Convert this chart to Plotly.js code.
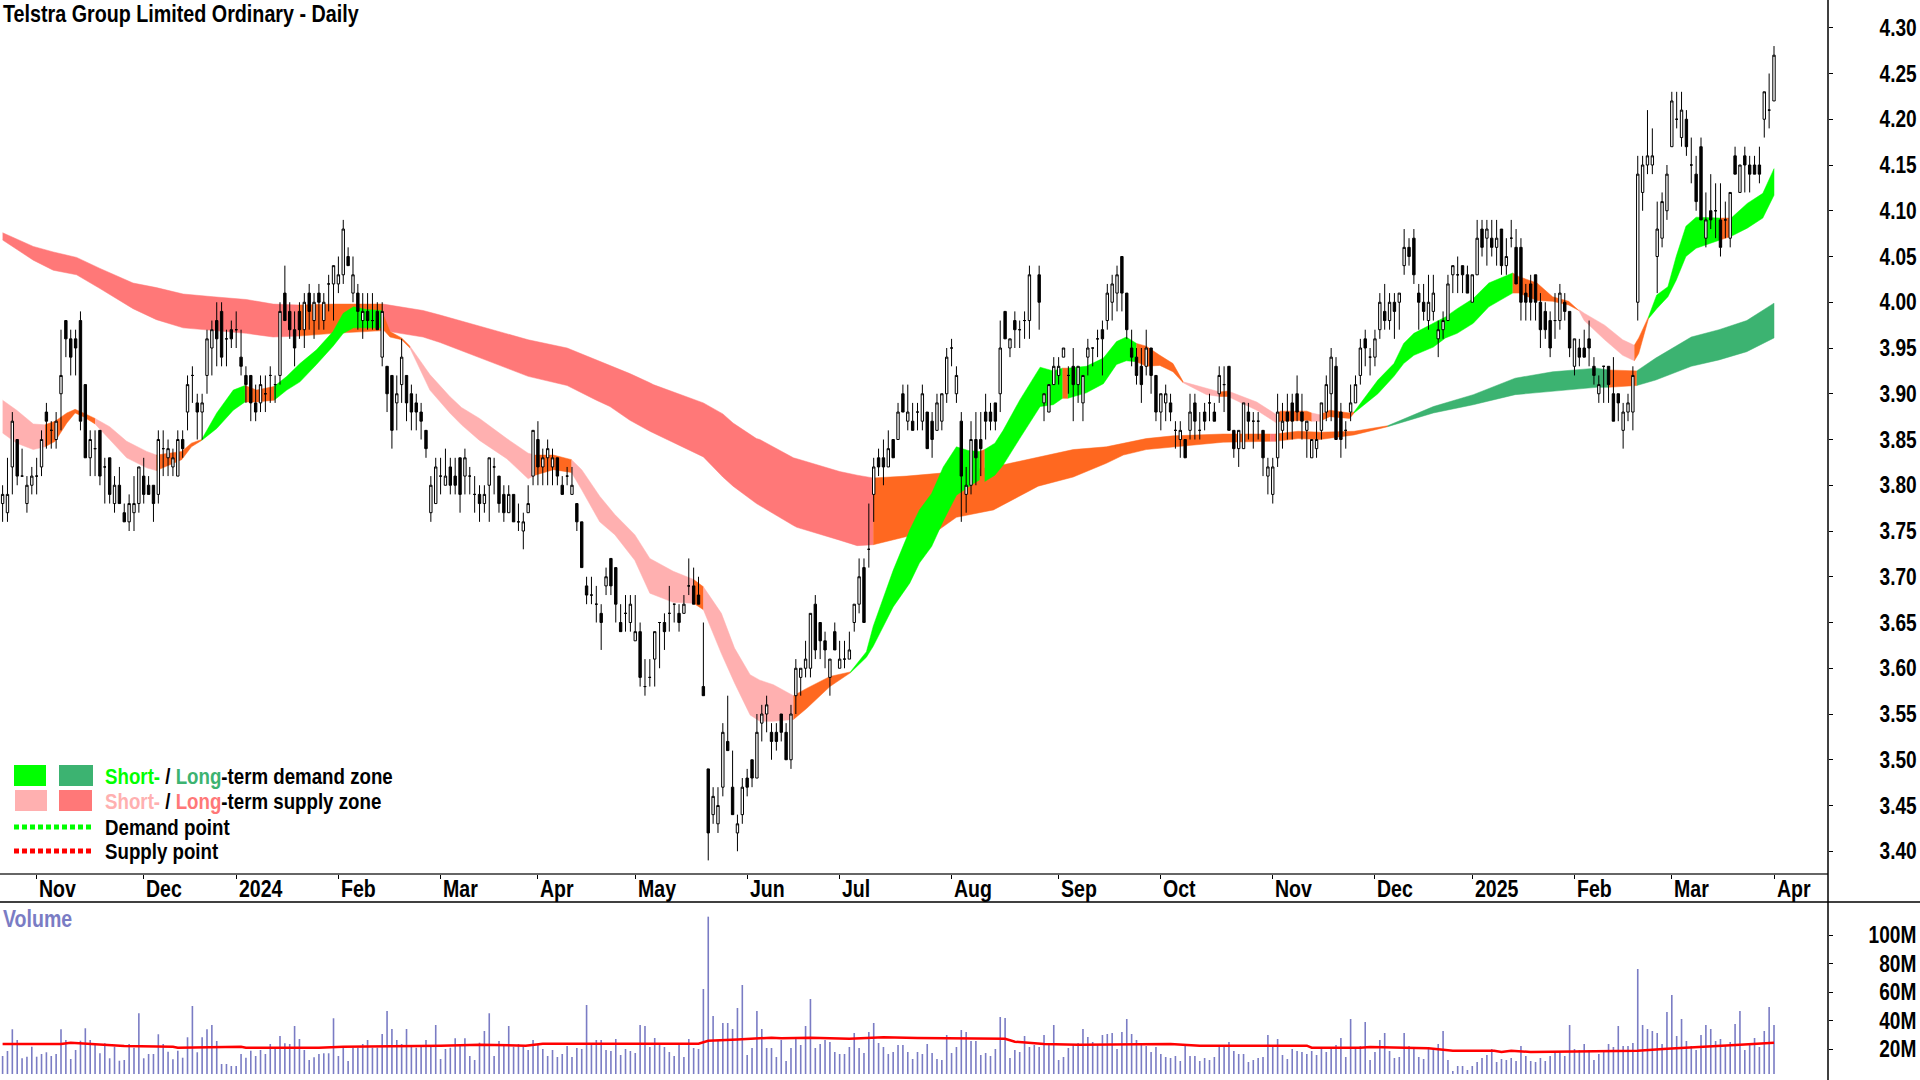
<!DOCTYPE html>
<html>
<head>
<meta charset="utf-8">
<script src="https://cdn.plot.ly/plotly-3.0.1.min.js"></script>
<style>
  html, body { margin: 0; padding: 0; background: #fff; }
  #chart { width: 1920px; height: 1080px; }
</style>
</head>
<body>
<div id="chart"></div>
<script>
// daily bars, one entry per trading day
var open = [
  3.78,3.77,3.82,3.85,3.81,3.78,3.80,3.81,3.82,3.88,
  3.86,3.85,3.90,3.98,3.96,3.96,3.98,3.91,3.83,3.84,
  3.86,3.82,3.83,3.78,3.80,3.77,3.76,3.77,3.78,3.81,
  3.80,3.80,3.79,3.84,3.83,3.82,3.81,3.85,3.88,3.92,
  3.89,3.88,3.92,3.95,3.98,3.99,3.96,3.97,3.97,3.94,
  3.92,3.92,3.89,3.89,3.90,3.92,3.91,3.92,4.01,3.99,
  3.97,3.99,3.97,4.01,3.98,4.01,3.98,4.02,4.02,4.02,
  4.03,4.05,4.01,4.01,3.98,3.99,3.98,3.99,3.94,3.93,
  3.92,3.89,3.91,3.92,3.90,3.89,3.88,3.86,3.77,3.78,
  3.81,3.80,3.82,3.81,3.83,3.81,3.81,3.79,3.79,3.78,
  3.80,3.82,3.81,3.79,3.77,3.79,3.76,3.75,3.77,3.81,
  3.85,3.82,3.83,3.82,3.83,3.80,3.81,3.79,3.78,3.76,
  3.69,3.68,3.67,3.66,3.69,3.72,3.71,3.65,3.66,3.65,
  3.63,3.64,3.58,3.59,3.61,3.65,3.65,3.66,3.67,3.66,
  3.66,3.69,3.69,3.68,3.58,3.49,3.44,3.43,3.47,3.52,
  3.47,3.42,3.44,3.48,3.50,3.48,3.54,3.55,3.53,3.53,
  3.55,3.53,3.50,3.57,3.59,3.60,3.60,3.67,3.65,3.63,
  3.59,3.64,3.60,3.61,3.61,3.65,3.67,3.71,3.73,3.79,
  3.83,3.83,3.82,3.85,3.85,3.90,3.87,3.87,3.88,3.87,
  3.88,3.87,3.86,3.87,3.90,3.95,3.90,3.87,3.79,3.80,
  3.85,3.85,3.88,3.88,3.89,3.90,3.99,3.95,3.98,3.97,
  3.98,3.98,null,4.03,3.89,3.88,3.91,3.92,3.94,3.92,
  3.93,3.91,3.89,3.94,3.95,3.96,3.97,3.98,4.00,4.01,
  4.05,4.01,3.95,3.94,3.93,3.93,3.95,3.92,3.88,3.89,
  3.89,3.86,3.85,3.85,3.86,3.89,3.86,3.88,3.89,3.88,
  3.90,3.91,3.93,3.86,3.84,3.84,3.88,3.87,3.87,3.86,
  3.81,3.79,3.83,3.86,3.88,3.89,3.90,3.88,3.86,3.83,
  3.84,3.86,3.88,3.90,3.93,3.88,3.86,3.88,3.89,3.92,
  3.96,3.94,3.94,3.97,3.99,3.98,4.00,4.00,4.04,4.06,
  4.07,4.01,4.00,3.98,3.99,3.96,3.97,3.98,4.03,4.03,
  4.04,4.03,4.00,4.03,4.08,4.07,4.07,4.06,4.08,4.04,
  4.07,4.06,4.06,4.01,4.02,4.03,4.00,3.99,3.98,3.98,
  3.98,4.00,3.99,3.93,3.95,3.95,3.96,3.93,3.90,3.93,
  3.93,3.90,3.90,3.86,3.88,3.88,4.00,4.12,4.15,4.15,
  4.05,4.07,4.10,4.17,4.20,4.18,4.20,4.15,4.14,4.17,
  4.07,4.10,4.10,4.09,4.09,4.07,4.16,4.12,4.16,4.15,
  4.15,4.15,4.20,4.21,4.22
];
var high = [
  3.80,3.83,3.88,3.85,3.84,3.81,3.82,3.83,3.86,3.89,
  3.87,3.88,3.97,3.98,3.97,3.97,3.99,3.91,3.86,3.86,
  3.86,3.83,3.83,3.81,3.82,3.78,3.79,3.81,3.82,3.83,
  3.81,3.80,3.86,3.86,3.85,3.84,3.86,3.86,3.92,3.93,
  3.90,3.90,3.97,3.98,4.00,4.00,3.97,3.98,3.99,3.97,
  3.93,3.92,3.91,3.92,3.92,3.93,3.92,4.00,4.04,4.00,
  3.99,4.00,4.01,4.02,4.01,4.02,4.01,4.03,4.04,4.05,
  4.09,4.06,4.05,4.02,4.01,4.01,4.01,4.00,4.00,3.93,
  3.92,3.92,3.96,3.92,3.91,3.90,3.89,3.86,3.81,3.83,
  3.83,3.84,3.83,3.83,3.83,3.84,3.82,3.81,3.80,3.80,
  3.83,3.83,3.81,3.80,3.80,3.79,3.78,3.77,3.80,3.86,
  3.87,3.84,3.85,3.84,3.83,3.81,3.82,3.82,3.78,3.76,
  3.70,3.70,3.69,3.67,3.71,3.72,3.71,3.67,3.68,3.68,
  3.68,3.65,3.61,3.61,3.64,3.65,3.66,3.69,3.67,3.67,
  3.68,3.72,3.71,3.70,3.65,3.49,3.47,3.47,3.54,3.57,
  3.51,3.44,3.48,3.49,3.50,3.55,3.56,3.57,3.54,3.54,
  3.55,3.54,3.56,3.61,3.60,3.63,3.66,3.68,3.65,3.64,
  3.61,3.65,3.63,3.63,3.64,3.67,3.72,3.72,3.78,3.83,
  3.84,3.85,3.86,3.85,3.89,3.91,3.91,3.89,3.89,3.91,
  3.88,3.88,3.90,3.90,3.95,3.96,3.93,3.88,3.82,3.87,
  3.88,3.88,3.90,3.89,3.89,3.98,3.99,3.96,3.99,3.98,
  3.99,4.04,null,4.04,3.90,3.91,3.94,3.94,3.95,3.93,
  3.95,3.93,3.92,3.96,3.95,3.97,3.98,4.02,4.03,4.04,
  4.05,4.01,3.97,3.95,3.95,3.97,3.95,3.92,3.90,3.91,
  3.90,3.87,3.87,3.85,3.90,3.90,3.88,3.89,3.90,3.89,
  3.93,3.93,3.93,3.86,3.86,3.89,3.89,3.88,3.88,3.86,
  3.83,3.83,3.90,3.89,3.90,3.90,3.92,3.90,3.87,3.85,
  3.87,3.89,3.92,3.95,3.94,3.89,3.87,3.91,3.92,3.96,
  3.97,3.95,3.97,4.01,4.02,4.01,4.01,4.01,4.08,4.07,
  4.08,4.02,4.02,4.03,4.03,3.98,3.99,4.03,4.04,4.05,
  4.04,4.04,4.03,4.09,4.09,4.09,4.09,4.09,4.08,4.07,
  4.09,4.08,4.07,4.02,4.03,4.03,4.01,4.00,3.99,4.01,
  4.02,4.01,3.99,3.96,3.96,3.97,3.98,3.94,3.92,3.93,
  3.93,3.94,3.90,3.89,3.90,3.93,4.16,4.16,4.21,4.19,
  4.11,4.12,4.15,4.23,4.23,4.23,4.21,4.18,4.16,4.18,
  4.12,4.14,4.13,4.13,4.11,4.12,4.17,4.15,4.17,4.16,
  4.16,4.17,4.23,4.25,4.28
];
var low = [
  3.76,3.76,3.79,3.80,3.81,3.77,3.79,3.79,3.81,3.84,
  3.84,3.84,3.86,3.94,3.92,3.92,3.86,3.83,3.81,3.81,
  3.80,3.78,3.78,3.77,3.78,3.76,3.75,3.75,3.77,3.78,
  3.79,3.76,3.78,3.81,3.81,3.81,3.81,3.83,3.86,3.89,
  3.85,3.85,3.90,3.92,3.93,3.93,3.93,3.95,3.95,3.92,
  3.89,3.87,3.87,3.88,3.88,3.89,3.89,3.91,3.98,3.96,
  3.93,3.96,3.95,3.97,3.96,3.97,3.97,3.99,3.98,4.01,
  4.02,4.04,4.00,3.97,3.96,3.97,3.97,3.97,3.93,3.88,
  3.84,3.86,3.89,3.87,3.86,3.86,3.85,3.83,3.76,3.78,
  3.79,3.80,3.79,3.79,3.77,3.79,3.79,3.77,3.76,3.77,
  3.76,3.79,3.77,3.76,3.77,3.76,3.75,3.73,3.77,3.80,
  3.80,3.80,3.80,3.80,3.80,3.79,3.80,3.79,3.75,3.71,
  3.67,3.67,3.65,3.62,3.68,3.68,3.65,3.64,3.64,3.64,
  3.63,3.58,3.57,3.58,3.58,3.60,3.62,3.64,3.65,3.64,
  3.66,3.68,3.67,3.67,3.57,3.39,3.43,3.42,3.46,3.51,
  3.44,3.40,3.43,3.46,3.47,3.48,3.52,3.53,3.50,3.51,
  3.52,3.50,3.49,3.55,3.57,3.59,3.59,3.61,3.61,3.60,
  3.57,3.62,3.60,3.60,3.61,3.64,3.66,3.65,3.71,3.76,
  3.81,3.80,3.82,3.83,3.85,3.88,3.86,3.86,3.86,3.86,
  3.84,3.83,3.86,3.86,3.89,3.93,3.89,3.76,3.77,3.79,
  3.80,3.81,3.85,3.86,3.86,3.88,3.96,3.94,3.95,3.95,
  3.96,3.96,null,3.97,3.87,3.88,3.91,3.91,3.94,3.90,
  3.87,3.89,3.87,3.92,3.93,3.94,3.92,3.97,3.98,3.99,
  3.99,3.96,3.93,3.91,3.89,3.92,3.90,3.87,3.86,3.87,
  3.87,3.84,3.83,3.83,3.85,3.85,3.85,3.86,3.87,3.87,
  3.89,3.88,3.86,3.83,3.82,3.84,3.85,3.84,3.85,3.81,
  3.79,3.78,3.82,3.84,3.85,3.85,3.87,3.85,3.83,3.83,
  3.83,3.85,3.87,3.87,3.85,3.83,3.84,3.87,3.89,3.91,
  3.93,3.92,3.93,3.96,3.97,3.97,3.96,3.97,4.03,4.04,
  4.02,3.97,3.98,3.97,3.98,3.94,3.96,3.98,4.01,4.01,
  4.01,4.01,4.00,4.03,4.05,4.04,4.05,4.04,4.03,4.03,
  4.06,4.02,3.98,3.98,3.98,3.98,3.95,3.96,3.94,3.96,
  3.97,3.98,3.94,3.92,3.93,3.94,3.93,3.91,3.89,3.89,
  3.89,3.87,3.87,3.84,3.87,3.86,3.98,4.10,4.14,4.14,
  4.01,4.06,4.09,4.17,4.19,4.17,4.16,4.13,4.10,4.09,
  4.06,4.08,4.07,4.05,4.07,4.06,4.14,4.12,4.12,4.12,
  4.14,4.13,4.18,4.19,4.22
];
var close = [
  3.79,3.79,3.87,3.81,3.81,3.80,3.81,3.81,3.85,3.87,
  3.86,3.87,3.92,3.96,3.94,3.95,3.87,3.83,3.85,3.84,
  3.81,3.82,3.79,3.80,3.78,3.76,3.78,3.78,3.82,3.79,
  3.79,3.78,3.85,3.84,3.84,3.83,3.85,3.84,3.91,3.92,
  3.88,3.89,3.96,3.97,3.96,3.94,3.96,3.96,3.97,3.93,
  3.91,3.89,3.88,3.91,3.90,3.92,3.91,3.99,3.98,3.97,
  3.95,3.97,4.00,3.99,4.00,4.00,4.00,4.02,4.04,4.03,
  4.08,4.04,4.03,3.99,3.99,3.98,3.98,3.97,3.99,3.90,
  3.86,3.90,3.94,3.89,3.88,3.88,3.87,3.84,3.80,3.82,
  3.81,3.81,3.80,3.80,3.79,3.83,3.81,3.79,3.78,3.79,
  3.83,3.82,3.78,3.77,3.79,3.76,3.76,3.76,3.78,3.86,
  3.82,3.83,3.84,3.83,3.81,3.79,3.81,3.80,3.76,3.71,
  3.68,3.68,3.67,3.65,3.70,3.69,3.67,3.64,3.66,3.67,
  3.64,3.59,3.58,3.59,3.64,3.65,3.64,3.66,3.67,3.65,
  3.67,3.69,3.67,3.67,3.57,3.42,3.46,3.45,3.53,3.51,
  3.44,3.43,3.47,3.47,3.48,3.53,3.55,3.56,3.52,3.52,
  3.53,3.50,3.55,3.60,3.60,3.61,3.66,3.62,3.63,3.62,
  3.61,3.62,3.61,3.61,3.62,3.67,3.70,3.65,3.73,3.82,
  3.82,3.82,3.84,3.83,3.88,3.88,3.88,3.86,3.88,3.90,
  3.84,3.85,3.89,3.90,3.94,3.95,3.92,3.81,3.80,3.85,
  3.83,3.84,3.87,3.87,3.87,3.95,3.96,3.96,3.97,3.97,
  3.98,4.03,null,4.00,3.90,3.91,3.93,3.93,3.95,3.92,
  3.91,3.93,3.92,3.95,3.95,3.96,3.96,4.01,4.02,4.03,
  4.01,3.97,3.94,3.92,3.91,3.95,3.92,3.88,3.90,3.90,
  3.88,3.86,3.86,3.83,3.88,3.87,3.86,3.87,3.89,3.87,
  3.92,3.91,3.86,3.84,3.86,3.89,3.87,3.87,3.87,3.83,
  3.82,3.82,3.88,3.87,3.87,3.87,3.88,3.87,3.87,3.85,
  3.85,3.89,3.91,3.94,3.85,3.85,3.86,3.89,3.91,3.95,
  3.95,3.94,3.96,4.00,3.98,4.00,3.99,4.01,4.06,4.05,
  4.03,4.00,3.99,4.00,4.01,3.97,3.98,4.02,4.04,4.03,
  4.03,4.01,4.03,4.07,4.06,4.08,4.06,4.07,4.04,4.05,
  4.07,4.02,4.00,4.00,4.00,4.00,3.97,3.97,3.95,3.98,
  4.01,3.99,3.95,3.96,3.94,3.94,3.95,3.92,3.91,3.93,
  3.91,3.87,3.89,3.88,3.89,3.92,4.14,4.15,4.16,4.16,
  4.08,4.11,4.14,4.22,4.20,4.21,4.17,4.15,4.11,4.09,
  4.09,4.09,4.10,4.06,4.09,4.12,4.14,4.15,4.15,4.14,
  4.14,4.14,4.23,4.21,4.27
];
// volume in millions
var volume = [
  15.4,18.9,34.1,26.6,13.8,14.9,21.9,14.9,16.8,18.0,
  15.4,16.8,34.1,26.6,13.3,19.6,26.1,34.8,26.6,23.1,
  17.3,24.3,13.8,21.9,12.1,12.6,23.8,21.2,45.3,13.8,
  16.8,16.8,30.6,23.8,18.4,13.1,19.1,14.2,28.5,50.4,
  18.0,28.5,34.1,37.1,25.9,9.8,9.8,8.4,8.4,16.8,
  14.2,19.1,15.4,19.6,16.8,23.8,21.2,29.4,24.3,23.8,
  36.4,27.3,19.6,12.6,14.5,16.8,17.3,17.3,41.8,15.4,
  21.5,11.9,21.2,21.2,23.8,26.6,21.2,21.2,30.8,46.9,
  34.3,26.6,23.8,34.3,23.1,21.2,23.1,26.6,23.1,37.1,
  13.3,20.3,21.2,27.8,23.8,27.8,15.4,12.6,24.7,32.9,
  45.3,15.4,25.9,23.1,36.4,21.9,23.8,21.9,19.6,26.6,
  23.8,20.3,15.4,19.6,14.7,16.8,22.4,14.7,21.0,20.3,
  51.1,23.8,26.6,26.6,19.6,18.9,27.3,16.1,20.3,18.9,
  17.5,37.1,36.4,21.7,28.0,24.3,21.7,18.2,15.4,24.3,
  14.7,27.3,21.0,20.3,62.3,112.9,43.4,25.9,38.5,38.5,
  34.3,49.0,65.1,16.1,21.0,46.9,34.3,21.0,21.0,14.7,
  26.6,11.9,21.0,28.0,23.1,36.4,55.3,21.0,23.8,26.6,
  25.2,18.2,16.8,16.8,21.7,31.5,21.0,17.5,32.2,38.5,
  24.5,21.7,16.8,18.2,23.1,23.1,18.2,13.3,18.2,16.8,
  23.8,17.5,13.3,12.6,30.1,17.5,21.7,33.6,32.2,25.9,
  25.9,16.1,17.5,15.4,20.3,42.7,42.0,14.0,19.6,18.2,
  29.4,21.7,23.1,21.7,30.1,23.1,37.1,12.6,14.7,21.0,
  23.8,24.5,34.3,28.7,25.2,23.8,30.1,30.8,31.5,20.3,
  32.2,41.3,30.8,26.6,24.5,22.4,18.2,21.7,16.8,14.7,
  14.0,15.4,11.9,23.8,15.4,15.4,11.9,14.0,12.6,14.7,
  23.1,23.1,25.2,18.9,16.8,16.8,11.2,12.6,14.0,14.7,
  30.1,23.1,27.3,16.1,13.3,20.3,18.9,18.2,16.8,18.9,
  16.1,20.3,18.2,20.3,23.1,28.0,14.7,41.3,20.3,22.4,
  39.2,12.6,18.2,26.6,31.5,18.9,14.0,14.7,31.5,22.4,
  21.7,14.7,13.3,20.3,20.3,23.8,32.9,12.6,4.9,8.4,
  8.4,5.6,8.4,11.2,14.0,16.1,20.3,11.2,13.3,12.6,
  14.0,11.9,22.4,15.4,11.9,11.2,14.0,11.9,15.4,18.2,
  18.2,15.4,37.1,20.3,19.6,23.8,19.6,12.6,16.8,18.2,
  23.8,21.7,36.4,22.4,22.4,24.5,76.3,37.1,34.3,32.9,
  31.5,23.8,46.2,58.1,29.4,41.3,25.9,22.4,19.6,30.1,
  37.1,34.3,25.9,27.3,22.4,25.2,37.8,46.9,19.6,23.1,
  28.0,21.7,32.9,49.7,37.1
];
var volumeAvgDay = [0,12,14,16,20,25,35,36,49,50,65,70,90,98,107.5,111,143,145,151,158,160,166,174,181,188,206,208,214,221,240,242.5,246,268,269,279,281,293,298,306.5,308,310,314,336,342,357,364];
var volumeAvg = [23.8,23.8,24.7,24.3,23.1,22.4,21.9,21.2,21.9,21.2,21.2,21.9,22.6,23.3,22.6,24.0,24.0,26.1,27.0,28.2,27.8,28.2,27.5,28.5,28.0,27.5,25.4,23.8,23.3,23.8,23.3,22.6,22.6,21.2,21.2,21.7,20.8,19.1,19.1,18.2,19.1,18.2,19.1,20.5,23.3,24.7];

var monthDays = [7,29,48,69,90,110,130,153,172,195,217,238,261,282,302,323,343,364];
var monthLabels = ['Nov','Dec','2024','Feb','Mar','Apr','May','Jun','Jul','Aug','Sep','Oct','Nov','Dec','2025','Feb','Mar','Apr'];
var priceTicks = [3.40,3.45,3.50,3.55,3.60,3.65,3.70,3.75,3.80,3.85,3.90,3.95,4.00,4.05,4.10,4.15,4.20,4.25,4.30];
var volumeTicks = [20,40,60,80,100];

// long-term band, one entry per stretch of the same zone colour
var longKind = ['supply','neutral','supply','neutral','supply','neutral','demand','neutral','demand'];
var longDay = [
  [0,6.3,10.4,15.2,20,26.8,31.6,37.1,43.3,50.1,55.6,60.8],
  [60.8,68,78.2],
  [78.2,86.4,89.9,96,102.2,108,116,122,124.8,128.9,133,133.7,144,148,150.1,154.9,155.6,162.5,163.2,172,175.6,178.9],
  [178.9,185.8,192.3,196,203.6,212.8,220,226.8,230.3,235,240.5,250.8,260.5],
  [260.5,261.5],
  [261.5,266.2,270.7,277.7,284.6],
  [284.6,294,302.2,310.8,318.5,327.5,330],
  [330,335.8],
  [335.8,339.7,347,352.7,358.4,364]
];
var longTop = [
  [4.076,4.061,4.055,4.049,4.037,4.021,4.016,4.009,4.006,4.003,3.998,3.997],
  [3.997,3.998,3.998],
  [3.998,3.991,3.986,3.977,3.968,3.959,3.950,3.937,3.931,3.922,3.912,3.910,3.890,3.878,3.868,3.851,3.850,3.830,3.829,3.815,3.811,3.808],
  [3.808,3.810,3.813,3.815,3.820,3.831,3.839,3.842,3.846,3.851,3.854,3.856,3.856],
  [3.856,3.856],
  [3.856,3.859,3.858,3.859,3.865],
  [3.865,3.886,3.899,3.917,3.924,3.928,3.926],
  [3.926,3.925],
  [3.925,3.939,3.962,3.970,3.980,3.999]
];
var longBottom = [
  [4.068,4.046,4.035,4.030,4.015,3.993,3.981,3.972,3.969,3.966,3.962,3.963],
  [3.963,3.966,3.969],
  [3.969,3.962,3.956,3.944,3.931,3.919,3.909,3.893,3.886,3.871,3.859,3.858,3.831,3.809,3.799,3.780,3.778,3.756,3.754,3.740,3.734,3.735],
  [3.735,3.744,3.751,3.765,3.773,3.799,3.809,3.824,3.833,3.839,3.842,3.847,3.848],
  [3.848,3.848],
  [3.848,3.851,3.850,3.855,3.864],
  [3.864,3.879,3.888,3.899,3.903,3.907,3.907],
  [3.907,3.909],
  [3.909,3.915,3.930,3.937,3.946,3.961]
];

// short-term band
var shortKind = ['supply','neutral','supply','neutral','demand','neutral','demand','neutral','supply','neutral','supply','neutral','supply','neutral','demand','neutral','demand','neutral','demand','neutral','supply','neutral','supply','neutral','supply','neutral','demand','neutral','supply','neutral','demand','neutral','demand'];
var shortDay = [
  [0,2.9,6.3,8.7],
  [8.7,10.8,13.2,14.9,16.6,19],
  [19,22,25.5,29.6,31.6],
  [31.6,35,36.8,38.8,40.9],
  [40.9,44,47.4,49.8],
  [49.8,52.2,55.8],
  [55.8,58.4,61.1,64.5,67.9,70,72.1,74.8,77.9],
  [77.9,79.6,82,83.7],
  [83.7,87.8,91.9,94.3,98,103.6,108,109.4],
  [109.4,113.2,116.9],
  [116.9,119,122.7,125.8,129.9,133,137.8,142],
  [142,144],
  [144,147.7,150.4,153.6,155.6,158.4,162.5],
  [162.5,165.2,170,174.2],
  [174.2,177.5,178.9,183,186.4,188.4,190.9,193.3,196,198.4,200.8],
  [200.8,201.8],
  [201.8,203.9,205.6,209,213.2,215.9,217.8],
  [217.8,218.9],
  [218.9,222.7,226.2,228.9,230.9,233],
  [233,235,237.8,240.5,242.6],
  [242.6,247.4,250.1],
  [250.1,251.8],
  [251.8,257.7,261.8],
  [261.8,262.5,268,269],
  [269,270.7],
  [270.7,272.7,276.8,277.7],
  [277.7,282.6,285.9,287.9,290,294,296.5,298.9,302.2,305.4,310.3],
  [310.3,311.6,315.3,318.5,321.8,323.9],
  [323.9,325,329.2,332.9,335.3],
  [335.3,336.2,338.2],
  [338.2,339.9,342.2,343.9,345.9,348,352.9],
  [352.9,355.2],
  [355.2,358.5,361.7,364]
];
var shortTop = [
  [3.893,3.882,3.867,3.866],
  [3.866,3.870,3.879,3.883,3.879,3.873],
  [3.873,3.864,3.848,3.837,3.833],
  [3.833,3.836,3.837,3.846,3.850],
  [3.850,3.879,3.904,3.909],
  [3.909,3.904,3.908],
  [3.908,3.919,3.933,3.948,3.968,3.988,3.995,3.992,3.991],
  [3.991,3.968,3.961,3.952],
  [3.952,3.921,3.897,3.885,3.873,3.851,3.835,3.833],
  [3.833,3.833,3.828],
  [3.828,3.817,3.788,3.768,3.746,3.720,3.706,3.697],
  [3.697,3.689],
  [3.689,3.660,3.622,3.593,3.587,3.582,3.570],
  [3.570,3.578,3.591,3.596],
  [3.596,3.618,3.646,3.707,3.751,3.773,3.791,3.820,3.842,3.838,3.837],
  [3.837,3.839],
  [3.839,3.846,3.860,3.893,3.929,3.925,3.928],
  [3.928,3.928],
  [3.928,3.930,3.939,3.957,3.962,3.955],
  [3.955,3.952,3.942,3.933,3.913],
  [3.913,3.906,3.902],
  [3.902,3.903],
  [3.903,3.891,3.877],
  [3.877,3.881,3.881,3.879],
  [3.879,3.877],
  [3.877,3.882,3.879,3.880],
  [3.880,3.915,3.933,3.955,3.966,3.977,3.984,3.993,4.004,4.021,4.032],
  [4.032,4.028,4.021,4.006,4.001,3.992],
  [3.992,3.988,3.975,3.959,3.953],
  [3.953,3.961,3.984],
  [3.984,4.008,4.017,4.050,4.083,4.093,4.092],
  [4.092,4.092],
  [4.092,4.108,4.119,4.146]
];
var shortBottom = [
  [3.857,3.846,3.839,3.842],
  [3.842,3.848,3.868,3.879,3.875,3.867],
  [3.867,3.850,3.830,3.819,3.816],
  [3.816,3.824,3.828,3.842,3.849],
  [3.849,3.862,3.882,3.891],
  [3.891,3.891,3.893],
  [3.893,3.904,3.913,3.932,3.952,3.966,3.972,3.972,3.972],
  [3.972,3.962,3.959,3.950],
  [3.950,3.904,3.879,3.866,3.849,3.829,3.807,3.811],
  [3.811,3.817,3.814],
  [3.814,3.795,3.760,3.746,3.718,3.682,3.672,3.671],
  [3.671,3.664],
  [3.664,3.616,3.584,3.549,3.542,3.542,3.544],
  [3.544,3.556,3.580,3.595],
  [3.595,3.612,3.624,3.667,3.693,3.715,3.733,3.761,3.789,3.798,3.806],
  [3.806,3.804],
  [3.804,3.811,3.822,3.851,3.886,3.888,3.895],
  [3.895,3.895],
  [3.895,3.901,3.911,3.932,3.936,3.935],
  [3.935,3.930,3.931,3.924,3.912],
  [3.912,3.899,3.897],
  [3.897,3.897],
  [3.897,3.882,3.868],
  [3.868,3.870,3.871,3.870],
  [3.870,3.870],
  [3.870,3.875,3.873,3.879],
  [3.879,3.900,3.919,3.933,3.942,3.951,3.961,3.966,3.977,3.995,4.010],
  [4.010,4.010,4.002,4.001,3.997,3.991],
  [3.991,3.980,3.959,3.942,3.936],
  [3.936,3.944,3.982],
  [3.982,3.993,4.006,4.024,4.050,4.059,4.068],
  [4.068,4.072],
  [4.072,4.081,4.092,4.117]
];

var WIDTH = 1920, HEIGHT = 1080;
var AXIS_X = 1828, MAIN_BOTTOM = 874, VOL_TOP = 902, VOL_BASE = 1074;
var FONT = '"Liberation Sans", Arial, sans-serif';
var VOL_COLOR = '#7a7cc4';
var longColors = { supply: '#ff7878', neutral: '#ff6820', demand: '#3cb371' };
var shortColors = { supply: '#ffb0b0', neutral: '#ff6820', demand: '#00ff00' };

function px(x) { return x / WIDTH; }
function py(y) { return 1 - y / HEIGHT; }

function zoneTrace(days, top, bottom, color) {
  return {
    type: 'scatter', mode: 'lines', hoverinfo: 'skip', showlegend: false,
    x: days.concat(days.slice().reverse()),
    y: top.concat(bottom.slice().reverse()),
    fill: 'toself', fillcolor: color,
    line: { color: color, width: 0.5 }
  };
}

var traces = [];
longKind.forEach(function (kind, i) {
  traces.push(zoneTrace(longDay[i], longTop[i], longBottom[i], longColors[kind]));
});
shortKind.forEach(function (kind, i) {
  traces.push(zoneTrace(shortDay[i], shortTop[i], shortBottom[i], shortColors[kind]));
});

// candles sit on an overlaying subplot, scatter fills would cover them otherwise
var days = open.map(function (v, i) { return i; });
traces.push({
  type: 'candlestick', x: days, open: open, high: high, low: low, close: close,
  xaxis: 'x3', yaxis: 'y3', showlegend: false, hoverinfo: 'skip',
  increasing: { line: { color: '#000', width: 1 }, fillcolor: '#fff' },
  decreasing: { line: { color: '#000', width: 1 }, fillcolor: '#000' }
});
traces.push({
  type: 'bar', x: days, y: volume, xaxis: 'x2', yaxis: 'y2', width: 0.33,
  marker: { color: VOL_COLOR, line: { width: 0 } }, showlegend: false, hoverinfo: 'skip'
});
traces.push({
  type: 'scatter', mode: 'lines', x: volumeAvgDay, y: volumeAvg, xaxis: 'x2', yaxis: 'y2',
  line: { color: '#ff0000', width: 2.5 }, showlegend: false, hoverinfo: 'skip'
});

// range chosen so bar i lands on the same pixel as the reference
var dayWidth = 4.8665;
var xRange = [-2.6 / dayWidth, (AXIS_X - 2.6) / dayWidth];
var pricePerPx = 1 / 915;
var priceRange = [4.25 - (MAIN_BOTTOM - 73.5) * pricePerPx, 4.25 + 73.5 * pricePerPx];
var volRange = [(1078 - VOL_BASE) / 1.429, (1078 - VOL_TOP) / 1.429];

var annotations = monthLabels.map(function (label, i) {
  return {
    text: label, xref: 'x', x: monthDays[i], xshift: 0.5, xanchor: 'left',
    yref: 'paper', y: py(888.5), yanchor: 'middle', showarrow: false,
    font: { family: FONT, size: 23, weight: 700, color: '#000' }
  };
});
function legendText(html, y) {
  annotations.push({
    text: html, xref: 'paper', x: px(103), xanchor: 'left', yref: 'paper', y: py(y), yanchor: 'middle',
    showarrow: false, font: { family: FONT, size: 22, color: '#000', weight: 700 }
  });
}
legendText('<span style="color:#00ff00">Short-</span> / <span style="color:#3cb371">Long</span>-term demand zone', 776);
legendText('<span style="color:#ffb0b0">Short-</span> / <span style="color:#ff7878">Long</span>-term supply zone', 801.5);
legendText('Demand point', 827.5);
legendText('Supply point', 851);
annotations.push({
  text: 'Volume', xref: 'paper', x: px(1), xanchor: 'left', yref: 'paper', y: py(919), yanchor: 'middle',
  showarrow: false, font: { family: FONT, size: 23, weight: 700, color: VOL_COLOR }
});

function rect(x0, y0, x1, y1, color) {
  return { type: 'rect', xref: 'paper', yref: 'paper', x0: px(x0), x1: px(x1), y0: py(y0), y1: py(y1), fillcolor: color, line: { width: 0 } };
}
function rule(x0, y0, x1, y1, color, width, dash) {
  return { type: 'line', xref: 'paper', yref: 'paper', x0: px(x0), x1: px(x1), y0: py(y0), y1: py(y1), line: { color: color, width: width, dash: dash || 'solid' } };
}
var shapes = [
  rect(14, 765, 46, 786, '#00ff00'),
  rect(59, 765, 93, 786, '#3cb371'),
  rect(15, 790, 47, 811, '#ffb0b0'),
  rect(59, 790, 92, 811, '#ff7878'),
  rule(14, 827, 93, 827, '#00ff00', 5, '5px,3px'),
  rule(14, 851, 93, 851, '#ff0000', 5, '5px,3px'),
  rule(0, MAIN_BOTTOM, AXIS_X, MAIN_BOTTOM, '#333', 1.5),
  rule(0, VOL_TOP, WIDTH, VOL_TOP, '#000', 1.5),
  rule(AXIS_X, 0, AXIS_X, HEIGHT, '#000', 1.5)
];

var layout = {
  width: WIDTH, height: HEIGHT,
  margin: { l: 0, r: 0, t: 0, b: 0 },
  paper_bgcolor: '#fff', plot_bgcolor: '#fff',
  showlegend: false, hovermode: false,
  title: {
    text: 'Telstra Group Limited Ordinary - Daily', xref: 'paper', x: px(3), xanchor: 'left',
    yref: 'paper', y: py(14), yanchor: 'middle', pad: { t: 0, b: 0, l: 0, r: 0 },
    font: { family: FONT, size: 23, weight: 700, color: '#000' }
  },
  xaxis: {
    domain: [0, px(AXIS_X)], range: xRange, anchor: 'y',
    showgrid: false, zeroline: false, showline: false,
    tickmode: 'array', tickvals: monthDays, ticktext: monthLabels.map(function () { return ''; }),
    ticks: 'outside', ticklen: 4, tickwidth: 1, tickcolor: '#000'
  },
  yaxis: {
    domain: [py(MAIN_BOTTOM), 1], range: priceRange, side: 'right', anchor: 'x',
    showgrid: false, zeroline: false, showline: false,
    tickmode: 'array', tickvals: priceTicks, ticktext: priceTicks.map(function (v) { return v.toFixed(2); }),
    ticks: 'outside', ticklen: 4, tickwidth: 1, tickcolor: '#000', ticklabelstandoff: 42,
    tickfont: { family: FONT, size: 23, weight: 700, color: '#000' }
  },
  xaxis3: {
    domain: [0, px(AXIS_X)], range: xRange, overlaying: 'x', anchor: 'y3', side: 'bottom',
    rangeslider: { visible: false }, showgrid: false, zeroline: false, showline: false,
    showticklabels: false, ticks: ''
  },
  yaxis3: {
    domain: [py(MAIN_BOTTOM), 1], range: priceRange, overlaying: 'y', anchor: 'x3', side: 'right',
    showgrid: false, zeroline: false, showline: false, showticklabels: false, ticks: ''
  },
  xaxis2: {
    domain: [0, px(AXIS_X)], range: xRange, anchor: 'y2',
    showgrid: false, zeroline: false, showline: false, showticklabels: false, ticks: ''
  },
  yaxis2: {
    domain: [py(VOL_BASE), py(VOL_TOP)], range: volRange, side: 'right', anchor: 'x2',
    showgrid: false, zeroline: false, showline: false,
    tickmode: 'array', tickvals: volumeTicks,
    ticktext: volumeTicks.map(function (v) { return (v < 100 ? '\u2007' : '') + v + 'M'; }),
    ticks: 'outside', ticklen: 4, tickwidth: 1, tickcolor: '#000', ticklabelstandoff: 31,
    tickfont: { family: FONT, size: 23, weight: 700, color: '#000' }
  },
  annotations: annotations,
  shapes: shapes
};

// the reference font is narrower than anything installed, so squeeze each label from its left edge
function squeezeText(selector, factor) {
  document.querySelectorAll(selector).forEach(function (el) {
    var left = el.getBBox().x;
    var current = el.getAttribute('transform') || '';
    el.setAttribute('transform', current + ' translate(' + left + ',0) scale(' + factor + ',1) translate(' + (-left) + ',0)');
  });
}

Plotly.newPlot('chart', traces, layout, { displayModeBar: false, staticPlot: true }).then(function () {
  squeezeText('.gtitle', 0.858);
  squeezeText('.ytick text, .y2tick text', 0.83);
  squeezeText('.annotation-text', 0.85);
});
</script>
</body>
</html>
